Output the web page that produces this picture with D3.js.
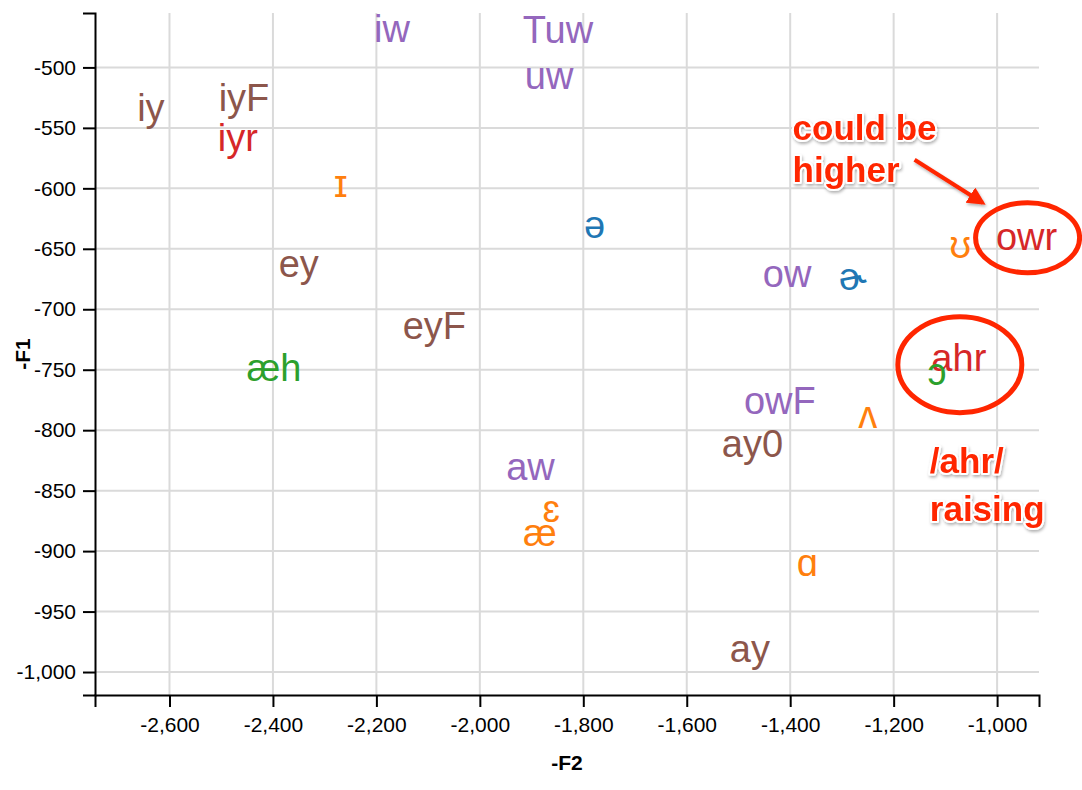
<!DOCTYPE html>
<html>
<head>
<meta charset="utf-8">
<script src="https://cdn.jsdelivr.net/npm/d3@7"></script>
<style>
  html, body { margin: 0; padding: 0; background: #fff; }
  svg { display: block; font-family: "Liberation Sans", Arial, Helvetica, sans-serif; }
</style>
</head>
<body>
<svg id="chart" width="1082" height="790"></svg>
<script>
// ---- data ----
const labels = ["iy","iyF","iyr","ɪ","iw","ey","Tuw","uw","ə","ow","eyF","owF","ay0","aw","ɛ","æ","ay","æh","ʊ","owr","ɚ","ahr","ɔ","ʌ","ɑ"];
const f2Values = [-2636,-2456,-2468,-2269,-2170,-2350,-1849,-1866,-1778,-1406,-2088,-1420,-1473,-1902,-1862,-1884,-1478,-2398,-1071,-943,-1279,-1074,-1116,-1250,-1367];
const f1Values = [-533,-525,-558,-596,-468,-662,-469,-507,-630,-671,-714,-776,-811,-830,-865,-885,-981,-748,-647,-640,-673,-740,-752,-787,-910];
const groups = ["y","y","r","lax","w","y","w","w","schwa","w","y","w","y","w","lax","lax","y","tense","lax","r","schwa","r","tense","lax","lax"];
const groupOrder = ["schwa","lax","tense","r","w","y"];
const xDomain = [-2744, -919];
const yDomain = [-1019, -455];
const xTicks = [-2600,-2400,-2200,-2000,-1800,-1600,-1400,-1200,-1000];
const yTicks = [-500,-550,-600,-650,-700,-750,-800,-850,-900,-950,-1000];
const notes = [
  {lines:["could be","higher"], key:"owr"},
  {lines:["/ahr/","raising"], key:"ahr"}
];

// ---- layout ----
const W = 1082, H = 790;
const margin = {top: 13, right: 43, bottom: 95, left: 95};
const iw = W - margin.left - margin.right;
const ih = H - margin.top - margin.bottom;

const svg = d3.select("#chart");
const defs = svg.append("defs");
const f = defs.append("filter").attr("id","shadow").attr("x","-20%").attr("y","-30%").attr("width","140%").attr("height","160%");
f.append("feDropShadow").attr("dx",1).attr("dy",2).attr("stdDeviation",1.5).attr("flood-color","#000").attr("flood-opacity",0.3);
defs.append("marker").attr("id","arrow").attr("viewBox","0 0 10 10").attr("refX",8).attr("refY",5)
  .attr("markerWidth",4.5).attr("markerHeight",4.5).attr("orient","auto").attr("markerUnits","strokeWidth")
  .append("path").attr("d","M0,0 L10,5 L0,10 z").attr("fill","#ff2600");

const g = svg.append("g").attr("transform", `translate(${margin.left},${margin.top})`);

const x = d3.scaleLinear().domain(xDomain).range([0, iw]);
const y = d3.scaleLinear().domain(yDomain).range([ih, 0]);
const color = d3.scaleOrdinal().domain(groupOrder).range(d3.schemeCategory10);

// grid
g.append("g").attr("class","grid")
  .selectAll("line").data(xTicks).join("line")
  .attr("x1", d => x(d)).attr("x2", d => x(d)).attr("y1", 0).attr("y2", ih)
  .attr("stroke", "#dadada").attr("stroke-width", 2);
g.append("g").attr("class","grid")
  .selectAll("line").data(yTicks).join("line")
  .attr("y1", d => y(d)).attr("y2", d => y(d)).attr("x1", 0).attr("x2", iw)
  .attr("stroke", "#dadada").attr("stroke-width", 2);

// axes
const fmt = v => d3.format(",")(v).replace("\u2212", "-");
const xAxis = g.append("g").attr("transform", `translate(0,${ih})`)
  .call(d3.axisBottom(x).tickValues(xTicks).tickFormat(fmt).tickSize(12).tickPadding(10));
const yAxis = g.append("g")
  .call(d3.axisLeft(y).tickValues(yTicks).tickFormat(fmt).tickSize(12).tickPadding(7));
[xAxis, yAxis].forEach(a => {
  a.selectAll("path, line").attr("stroke", "#000").attr("stroke-width", 2);
  a.selectAll("text").attr("font-size", 21).attr("fill", "#000")
    .attr("font-family", "'Liberation Sans', Arial, Helvetica, sans-serif");
});

// axis titles
g.append("text").attr("x", iw/2).attr("y", ih + 75)
  .attr("text-anchor","middle").attr("font-weight","bold").attr("font-size",21).text("-F2");
g.append("text").attr("transform", `translate(${-65},${ih/2}) rotate(-90)`)
  .attr("text-anchor","middle").attr("font-weight","bold").attr("font-size",21).text("-F1");

// vowel labels
const data = labels.map((l,i) => ({label:l, f2:f2Values[i], f1:f1Values[i], group:groups[i]}));
g.append("g").selectAll("text").data(data).join("text")
  .attr("x", d => x(d.f2)).attr("y", d => y(d.f1)).attr("dy","0.35em")
  .attr("text-anchor","middle").attr("font-size",38)
  .attr("fill", d => color(d.group)).text(d => d.label);

// annotations
const byLabel = Object.fromEntries(data.map(d => [d.label, d]));
const red = "#ff2600";
const owr = byLabel["owr"], ahr = byLabel["ahr"];
g.append("ellipse").attr("cx", x(owr.f2)+1).attr("cy", y(owr.f1)+1)
  .attr("rx", 52).attr("ry", 35).attr("fill","none").attr("stroke",red).attr("stroke-width",5);
g.append("ellipse").attr("cx", x(ahr.f2)+1).attr("cy", y(ahr.f1)+7)
  .attr("rx", 62).attr("ry", 48).attr("fill","none").attr("stroke",red).attr("stroke-width",5);
g.append("line").attr("x1", x(owr.f2)-112).attr("y1", y(owr.f1)-77)
  .attr("x2", x(owr.f2)-44).attr("y2", y(owr.f1)-34)
  .attr("stroke", red).attr("stroke-width", 4).attr("marker-end","url(#arrow)")
  .attr("filter","url(#shadow)");

function noteText(lines, x0, y0, gap) {
  const t = g.append("text").attr("x", x0).attr("y", y0)
    .attr("font-weight","bold").attr("font-size",35).attr("fill",red)
    .attr("stroke","#fff").attr("stroke-width",4).attr("paint-order","stroke")
    .attr("stroke-linejoin","round").attr("filter","url(#shadow)");
  lines.forEach((ln,i) => t.append("tspan").attr("x", x0).attr("dy", i ? gap : 0).text(ln));
}
noteText(notes[0].lines, x(owr.f2) - 234, y(owr.f1) - 97, 42);
noteText(notes[1].lines, x(ahr.f2) - 29, y(ahr.f1) + 115, 48);
</script>
</body>
</html>
